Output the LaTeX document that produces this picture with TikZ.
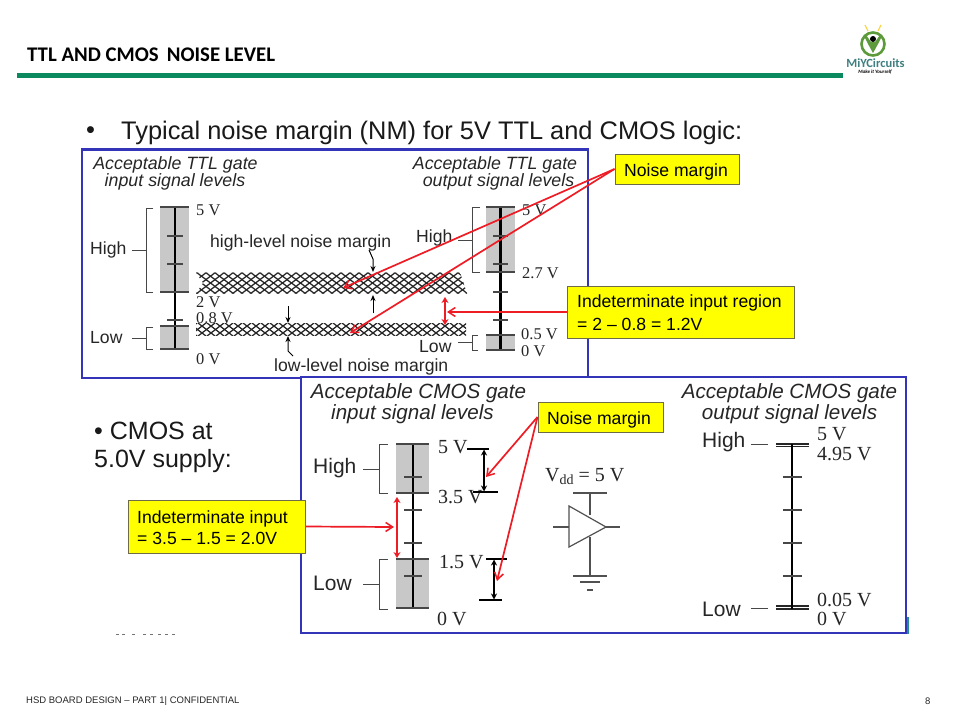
\documentclass[tikz,border=0pt]{standalone}
\usepackage{fontspec}
\setmainfont{Liberation Sans}
\newfontfamily\serf{Liberation Serif}
\newfontfamily\carl{Carlito}
\usetikzlibrary{arrows.meta}
\definecolor{bluebox}{HTML}{3434B8}
\definecolor{slidegreen}{HTML}{0B8A60}
\definecolor{inkc}{HTML}{262626}
\definecolor{barc}{HTML}{C8C8C8}
\definecolor{redc}{HTML}{EE1C25}
\definecolor{yel}{HTML}{FFFF00}
\definecolor{teal2}{HTML}{1F8F8F}
\definecolor{logog}{HTML}{5C9A3C}
\definecolor{logot}{HTML}{3F7F80}
\newcommand{\fs}[1]{\fontsize{#1}{#1}\selectfont}
\tikzset{
  x=1pt,y=-1pt,
  lab/.style={anchor=west,inner sep=0pt,text=inkc,yshift=-1.5pt},
  ttlhead/.style={anchor=center,inner sep=0pt,text=inkc,yshift=-1.5pt,font=\fs{17.8}\itshape},
  cmoshead/.style={anchor=center,inner sep=0pt,text=inkc,yshift=-1.5pt,font=\fs{20.6}\itshape},
  volt/.style={lab,font=\serf\fs{16.4}},
  voltb/.style={lab,font=\serf\fs{20}},
  sans16/.style={lab,font=\fs{17.6}},
  sans20/.style={lab,font=\fs{21}},
  panel/.style={draw=bluebox,line width=2.6pt,fill=white},
  note/.style={draw=black!65!yellow,line width=1pt,fill=yel,inner sep=0pt},
  notetext/.style={lab,text=black,font=\fs{17.6}},
  bartick/.style={line width=1.1pt,draw=inkc!85},
  axis/.style={line width=2.4pt,draw=black},
  brk/.style={line width=1pt,draw=inkc!85},
  redarr/.style={draw=redc,line width=1.7pt,-{Straight Barb[length=7pt,width=9pt,line width=1.5pt]}},
  reddbl/.style={draw=redc,line width=1.9pt,{Stealth[length=6pt,width=7pt]}-{Stealth[length=6pt,width=7pt]}},
  blkarr/.style={draw=black,line width=1pt,-{Stealth[length=6pt,width=5pt]}},
  blkdbl/.style={draw=black,line width=1.8pt,{Stealth[length=6pt,width=6pt]}-{Stealth[length=6pt,width=6pt]}},
  hatch/.style={draw=inkc,line width=1.25pt},
  circ/.style={draw=inkc!80,line width=1.2pt},
}
\begin{document}
\begin{tikzpicture}
\useasboundingbox[fill=white] (0,0) rectangle (960,720);

% header
\node[lab,text=black,font=\carl\bfseries\fs{20.8}] (title) at (27,53.5) {TTL AND CMOS\, NOISE LEVEL};
\fill[slidegreen] (17,73.2) rectangle (843,77.8);

% logo
\draw[logog,line width=2.6pt] (873,44) circle (11.5);
\fill[logog] (873,53) -- (868,44) -- (864,36) -- (866,35) -- (871,42) -- (875,42) -- (880,35) -- (882,36) -- (878,44) -- cycle;
\fill[black] (873,39) circle (3);
\draw[yellow!60!orange!70!white,line width=1.2pt] (868,31) -- (865,25) (878,31) -- (881,25);
\node[inner sep=0pt,text=logot,font=\carl\bfseries\fs{12.5}] (logotext) at (875.5,63.5) {MiYCircuits};
\node[inner sep=0pt,text=black,font=\carl\itshape\bfseries\fs{5}] (logosub) at (875,72) {Make it Yourself};

% bullet line
\node[lab,text=black!90,font=\fs{25.4}] (b1) at (86,131.5) {•};
\node[lab,text=black!90,font=\fs{25.4}] (b1t) at (121,131.5) {Typical noise margin (NM) for 5V TTL and CMOS logic:};

% ---------- TTL panel
\draw[panel] (82,149.5) rectangle (588,378);
\node[ttlhead] (ti1) at (175.5,163) {Acceptable TTL gate};
\node[ttlhead] (ti2) at (175,180) {input signal levels};
\node[ttlhead] (to1) at (495,163) {Acceptable TTL gate};
\node[ttlhead] (to2) at (498.5,180) {output signal levels};

% input scale
\fill[barc] (160,207) rectangle (189,292);
\fill[barc] (160,326) rectangle (189,349);
\draw[axis] (175,207) -- (175,349);
\foreach \yy in {207,292,326,349} \draw[bartick] (160,\yy) -- (189,\yy);
\foreach \yy in {236,264,320} \draw[bartick] (167,\yy) -- (183,\yy);
\draw[brk] (153,208) -- (146,208) -- (146,292) -- (153,292);
\draw[brk] (153,327) -- (146,327) -- (146,349) -- (153,349);
\draw[brk] (132,250) -- (146,250);
\draw[brk] (132,338) -- (146,338);
\node[sans16] (hi1) at (90,248) {High};
\node[sans16] (lo1) at (90,336) {Low};
\node[volt] (v5a) at (196,209) {5 V};
\node[volt] (v2a) at (196,301) {2 V};
\node[volt] (v08a) at (196,317) {0.8 V};
\node[volt] (v0a) at (196,358) {0 V};

% hatch bands
\begin{scope}
\clip (196,272.5) -- (460,272.5) -- (467,293.5) -- (196,293.5) -- (203,283) -- cycle;
\foreach \xx in {160,169,...,480} {
  \draw[hatch] (\xx,272) -- (\xx+29,294);
  \draw[hatch] (\xx+29,272) -- (\xx,294);
}
\end{scope}
\begin{scope}
\clip (196,323.5) rectangle (466,335.5);
\foreach \xx in {180,189,...,480} {
  \draw[hatch] (\xx,323) -- (\xx+17,336);
  \draw[hatch] (\xx+17,323) -- (\xx,336);
}
\end{scope}

\node[sans16] (hlnm) at (210,241) {high-level noise margin};
\node[sans16] (llnm) at (274,365) {low-level noise margin};
\coordinate (hd) at (373,272);
\coordinate (hu) at (373,295);
\coordinate (ld) at (288,323);
\coordinate (lu) at (288,336);
\draw[blkarr] (369,250) -- (373,259) -- (hd);
\draw[blkarr] (373,313) -- (hu);
\draw[blkarr] (288,306) -- (ld);
\draw[blkarr] (293,356) -- (288,351) -- (lu);

% output scale
\fill[barc] (486,207) rectangle (515,272);
\fill[barc] (486,335) rectangle (515,350);
\draw[axis] (500.5,207) -- (500.5,350);
\foreach \yy in {207,272,335,350} \draw[bartick] (486,\yy) -- (515,\yy);
\foreach \yy in {236,264,292,320} \draw[bartick] (493,\yy) -- (508,\yy);
\draw[brk] (480,207) -- (472,207) -- (472,272) -- (480,272);
\draw[brk] (478,335) -- (472,335) -- (472,350) -- (478,350);
\draw[brk] (458,240) -- (472,240);
\draw[brk] (458,342) -- (472,342);
\node[sans16] (hi2) at (416,236) {High};
\node[sans16] (lo2) at (419,345) {Low};
\node[volt] (v5b) at (522,209) {5 V};
\node[volt] (v27b) at (522,272) {2.7 V};
\node[volt] (v05b) at (521,333) {0.5 V};
\node[volt] (v0b) at (521,350) {0 V};

% TTL callouts
\node[note,minimum width=124pt,minimum height=30pt] (nm1) at (677,169) {};
\node[notetext] (nm1t) at (624,170) {Noise margin};
\node[note,minimum width=227pt,minimum height=52pt] (ind1) at (680.5,312) {};
\node[notetext] (ind1a) at (577,301) {Indeterminate input region};
\node[notetext] (ind1b) at (577,323) {= 2 – 0.8 = 1.2V};
\coordinate (nma) at (343,288);
\coordinate (nmb) at (350,333);
\coordinate (indt) at (447,312);
\coordinate (dbl1a) at (445,297);
\coordinate (dbl1b) at (445,325);
\draw[redarr] (nm1.west) -- (nma);
\draw[redarr] (nm1.west) -- (nmb);
\draw[redarr] (ind1.west) -- (indt);
\draw[reddbl] (dbl1a) -- (dbl1b);

% left text
\node[lab,text=black!90,font=\fs{25}] (c1) at (94,429) {• CMOS at};
\node[lab,text=black!90,font=\fs{25}] (c2) at (94,459.5) {5.0V supply:};
\foreach \xx in {116,122,132,143,150,158,165,172}
  \draw[black!55,line width=.8pt] (\xx,634.6) -- (\xx+2.5,634.6);

% ---------- CMOS panel
\fill[teal2] (905,617) rectangle (909,634);
\draw[panel] (301,377) rectangle (906,633);
\node[cmoshead] (ci1) at (418.5,392) {Acceptable CMOS gate};
\node[cmoshead] (ci2) at (412.5,413) {input signal levels};
\node[cmoshead] (co1) at (789.5,392) {Acceptable CMOS gate};
\node[cmoshead] (co2) at (789.5,413) {output signal levels};

% CMOS input scale
\fill[barc] (396,444) rectangle (429,493);
\fill[barc] (396,559) rectangle (429,609);
\draw[axis] (413,444) -- (413,609);
\foreach \yy in {444,493,559,608} \draw[bartick] (396,\yy) -- (429,\yy);
\foreach \yy in {477,510,543,576} \draw[bartick] (404,\yy) -- (422,\yy);
\draw[brk] (388,444) -- (379,444) -- (379,493) -- (388,493);
\draw[brk] (388,559) -- (379,559) -- (379,609) -- (388,609);
\draw[brk] (363,469) -- (379,469);
\draw[brk] (363,584) -- (379,584);
\node[sans20] (hi3) at (313,467) {High};
\node[sans20] (lo3) at (313,582) {Low};
\node[voltb] (v5c) at (438,446) {5 V};
\node[voltb] (v35c) at (438,496) {3.5 V};
\node[voltb] (v15c) at (439,561) {1.5 V};
\node[voltb] (v0c) at (437,617.5) {0 V};

% margin dimension marks
\draw[line width=1.5pt,black] (467,449) -- (489,449);
\draw[line width=1.5pt,black] (473,492) -- (498,492);
\draw[line width=1.5pt,black] (486,559) -- (507,559);
\draw[line width=1.5pt,black] (479,600) -- (502,600);
\coordinate (m1a) at (484,449.5);
\coordinate (m1b) at (484,491.5);
\coordinate (m2a) at (494,559.5);
\coordinate (m2b) at (494,599.5);
\draw[blkdbl] (m1a) -- (m1b);
\draw[blkdbl] (m2a) -- (m2b);

% buffer
\node[lab,text=inkc,font=\serf\fs{20}] (vdd) at (545,475) {V\raisebox{-3pt}{\fs{14}dd} = 5 V};
\draw[circ] (569,506) -- (606,527) -- (569,547) -- cycle;
\draw[circ] (553,527) -- (569,527);
\draw[circ] (606,527) -- (620,527);
\draw[circ] (573,493) -- (607,493);
\draw[circ] (590,493) -- (590,515);
\draw[circ] (590,537) -- (590,576);
\draw[circ] (573,576) -- (607,576);
\draw[circ] (580,582) -- (600,582);
\draw[circ] (587,590) -- (593,590);

% CMOS output scale
\draw[line width=1.6pt,black!85] (776,444) -- (809,444);
\draw[line width=1.6pt,black!85] (776,446.5) -- (809,446.5);
\draw[line width=1.6pt,black!85] (776,606) -- (809,606);
\draw[line width=1.6pt,black!85] (776,609) -- (809,609);
\draw[axis] (792,444) -- (792,609);
\foreach \yy in {477,510,543,576} \draw[bartick] (783,\yy) -- (802,\yy);
\draw[brk] (751,444.5) -- (768,444.5);
\draw[brk] (751,608) -- (768,608);
\node[sans20] (hi4) at (702,441) {High};
\node[sans20] (lo4) at (702,608) {Low};
\node[voltb] (v5d) at (817,433) {5 V};
\node[voltb] (v495d) at (817,453) {4.95 V};
\node[voltb] (v005d) at (817,598) {0.05 V};
\node[voltb] (v0d) at (817,617.5) {0 V};

% CMOS callouts
\node[note,minimum width=125pt,minimum height=30pt] (nm2) at (600.5,417) {};
\node[notetext] (nm2t) at (547,418) {Noise margin};
\node[note,minimum width=177pt,minimum height=53pt] (ind2) at (216.5,526.5) {};
\node[notetext] (ind2a) at (137,517) {Indeterminate input};
\node[notetext] (ind2b) at (137,537) {= 3.5 – 1.5 = 2.0V};
\coordinate (nmc) at (486,477);
\coordinate (nmd) at (497,581);
\coordinate (indc) at (394,527);
\coordinate (dbl2a) at (397,497);
\coordinate (dbl2b) at (397,558);
\draw[redarr] (nm2.west) -- (nmc);
\draw[redarr] (nm2.west) -- (nmd);
\draw[redarr] (ind2.east) -- (indc);
\draw[reddbl] (dbl2a) -- (dbl2b);

% footer
\node[lab,text=black!85,font=\fs{9.5},yshift=1pt] (foot) at (26,701) {HSD BOARD DESIGN – PART 1| CONFIDENTIAL};
\node[lab,text=black!85,font=\fs{9.5},yshift=1pt] (pageno) at (925,701) {8};
\end{tikzpicture}
\end{document}
